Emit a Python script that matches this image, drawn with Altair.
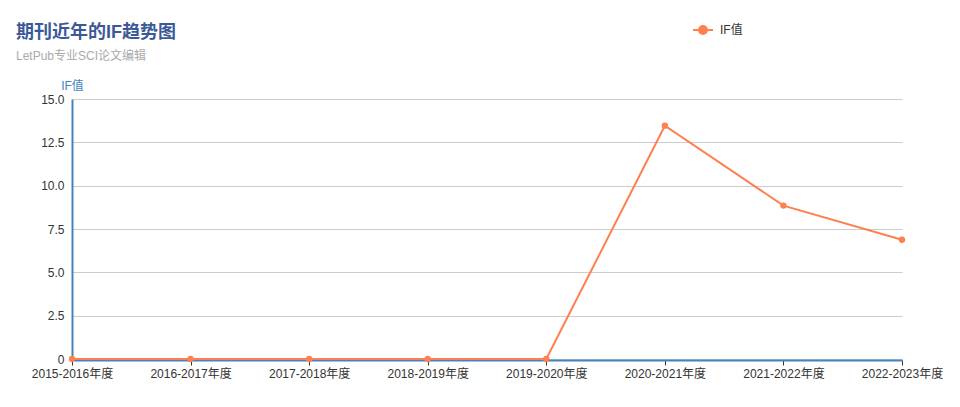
import altair as alt
import pandas as pd

# 数据
years = ["2015-2016年度", "2016-2017年度", "2017-2018年度", "2018-2019年度",
         "2019-2020年度", "2020-2021年度", "2021-2022年度", "2022-2023年度"]
if_values = [0, 0, 0, 0, 0, 13.46, 8.85, 6.88]
y_ticks = [0, 2.5, 5, 7.5, 10, 12.5, 15]

df = pd.DataFrame({"year": years, "IF": if_values, "series": ["IF值"] * len(years)})

font = "Liberation Sans, Arial, Noto Sans CJK SC, sans-serif"
line_color = "#ff7f50"
axis_blue = "#4384bf"

legend_symbol = ("M -1 0 L -0.45 0 M 0.45 0 L 1 0 "
                 "M 0.4 0 A 0.4 0.4 0 1 1 -0.4 0 A 0.4 0.4 0 1 1 0.4 0 Z")

chart = (
    alt.Chart(df)
    .mark_line(
        color=line_color,
        strokeWidth=2,
        point=alt.OverlayMarkDef(filled=True, size=40, color=line_color, opacity=1),
    )
    .encode(
        x=alt.X(
            "year:N",
            sort=years,
            scale=alt.Scale(type="point", padding=0),
            axis=alt.Axis(
                title=None,
                labelAngle=0,
                labelFontSize=12,
                labelColor="#333",
                labelFont=font,
                labelPadding=3,
                domainColor=axis_blue,
                domainWidth=2,
                tickColor="#333",
                tickSize=5,
                gridColor="#cccccc",
                offset=1,
            ),
        ),
        y=alt.Y(
            "IF:Q",
            scale=alt.Scale(domain=[0, 15], nice=False),
            axis=alt.Axis(
                title="IF值",
                titleAngle=0,
                titleAlign="center",
                titleBaseline="bottom",
                titleX=0,
                titleY=-7,
                titleColor=axis_blue,
                titleFontSize=12,
                titleFontWeight="normal",
                titleFont=font,
                values=y_ticks,
                labelExpr="datum.value == 0 ? '0' : format(datum.value, '.1f')",
                labelFontSize=12,
                labelColor="#333",
                labelFont=font,
                labelPadding=8,
                ticks=False,
                domainColor=axis_blue,
                domainWidth=2,
                gridColor="#cccccc",
            ),
        ),
        color=alt.Color(
            "series:N",
            scale=alt.Scale(range=[line_color]),
            legend=alt.Legend(
                title=None,
                orient="none",
                legendX=620,
                legendY=-80,
                symbolType=legend_symbol,
                symbolSize=400,
                symbolStrokeWidth=2,
                symbolStrokeColor=line_color,
                symbolFillColor=line_color,
                labelFontSize=12,
                labelColor="#333",
                labelFont=font,
                labelOffset=6,
            ),
        ),
    )
    .properties(
        width=830,
        height=260,
        padding={"left": 64, "top": 91, "right": 50, "bottom": 20},
        autosize=alt.AutoSizeParams(type="none"),
        title=alt.TitleParams(
            text="期刊近年的IF趋势图",
            subtitle="LetPub专业SCI论文编辑",
            anchor="start",
            frame="group",
            dx=-56,
            dy=47,
            fontSize=18,
            fontWeight="bold",
            color="#3b5998",
            font=font,
            subtitleFontSize=12,
            subtitleColor="#aaaaaa",
            subtitleFont=font,
            subtitlePadding=9,
        ),
    )
    .configure_view(stroke=None)
)

chart.save("out.html", embed_options={"renderer": "svg", "actions": False})
